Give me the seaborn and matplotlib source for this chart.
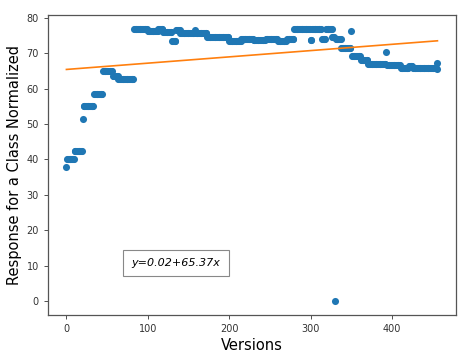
import numpy as np
import pandas as pd
import matplotlib
matplotlib.use("Agg")
import matplotlib.pyplot as plt
import seaborn as sns

# plateau levels, with how many versions each lasts
levels = [38.0, 40.0, 42.4, 51.5, 55.0, 58.5, 65.0, 63.6, 62.6,
          76.8, 76.1, 76.8, 75.8, 73.3, 76.4,
          75.5, 76.6, 75.5, 74.6,
          73.5, 74.0, 73.6, 74.0, 73.5, 74.0,
          76.9, 73.6, 76.9, 73.9, 76.8, 74.5,
          0.0, 74.0, 71.5, 76.3, 69.2, 68.0, 67.0, 70.4,
          66.6, 65.9, 66.4, 65.8, 65.5, 67.3]
counts = [1, 9, 10, 1, 13, 11, 12, 7, 19,
          17, 13, 6, 11, 5, 5,
          18, 1, 14, 27,
          15, 15, 15, 15, 11, 9,
          20, 2, 12, 5, 8, 3,
          1, 7, 12, 1, 11, 9, 22, 1,
          17, 10, 5, 29, 1, 1]

# fitted line as printed on the chart
intercept = 65.37
slope = 0.0177
label = "y=0.02+65.37x"

response = np.repeat(levels, counts)
versions = np.arange(len(response))
df = pd.DataFrame({"version": versions, "response": response})
df["fit"] = intercept + slope * df["version"]

fig = plt.figure(figsize=(4.74, 3.63), dpi=100)
ax = fig.add_axes([0.101, 0.132, 0.861, 0.827])

sns.scatterplot(data=df, x="version", y="response", color="#1f77b4",
                s=26, linewidth=0, ax=ax)
sns.lineplot(data=df, x="version", y="fit", color="#ff7f0e",
             linewidth=1.2, ax=ax)

ax.set_xlabel("Versions", fontsize=10.5, labelpad=3)
ax.set_ylabel("Response for a Class Normalized", fontsize=10.5, labelpad=3)
ax.tick_params(labelsize=7, colors="#333333", length=3, width=0.6)
for s in ax.spines.values():
    s.set_color("#555555")
    s.set_linewidth(0.9)
ax.set_xticks([0, 100, 200, 300, 400])
ax.set_yticks(range(0, 81, 10))

ax.text(80, 10.8, label, style="italic", fontsize=8, va="center",
        bbox=dict(boxstyle="square,pad=0.75", facecolor="white",
                  edgecolor="#888888", linewidth=0.8))

fig.savefig("out.png", dpi=100)
